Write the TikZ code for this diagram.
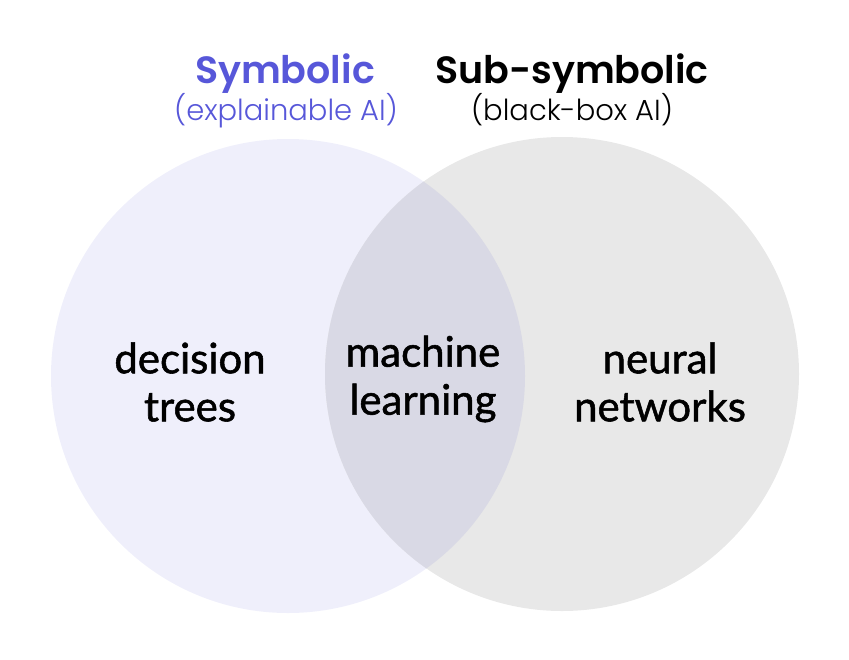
\documentclass[tikz,border=0pt]{standalone}
\usepackage{fontspec}
\setmainfont{Lato}
\newfontfamily\labelfont{Lato}[FakeBold=1.3]
\newfontfamily\titlefont{Poppins SemiBold}
\newfontfamily\subfont{Poppins Light}
\usetikzlibrary{positioning}
\definecolor{symblue}{HTML}{5757D9}
\definecolor{symfill}{HTML}{EFEFFB}
\definecolor{subfill}{HTML}{E8E8E8}
\definecolor{bothfill}{HTML}{D9D9E5}

\begin{document}
\begin{tikzpicture}[x=1pt, y=-1pt,
    every node/.style={
        align=center,
        inner sep=0pt},
    setlabel/.style={font=\labelfont\fontsize{42}{48}\selectfont},
    headtitle/.style={font=\titlefont\fontsize{38}{40}\selectfont, anchor=base},
    headsub/.style={font=\subfont\fontsize{29}{32}\selectfont, anchor=base}]

    \useasboundingbox (0,0) rectangle (849,659);

    \fill[symfill] (288,376) circle (237);
    \fill[subfill] (562,374) circle (237);
    \begin{scope}
        \clip (288,376) circle (237);
        \fill[bothfill] (562,374) circle (237);
    \end{scope}

    \node[headtitle, text=symblue] (symT) at (285,83) {Symbolic};
    \node[headsub, text=symblue] (symS) at (286,120) {(explainable AI)};
    \node[headtitle] (subT) at (572,83) {Sub-symbolic};
    \node[headsub] (subS) at (572,120) {(black-box AI)};

    \node[setlabel] (dt) at (190,382) {decision\\trees};
    \node[setlabel] (ml) at (423,379) {machine\\learning};
    \node[setlabel] (nn) at (660,382) {neural\\networks};
\end{tikzpicture}
\end{document}
